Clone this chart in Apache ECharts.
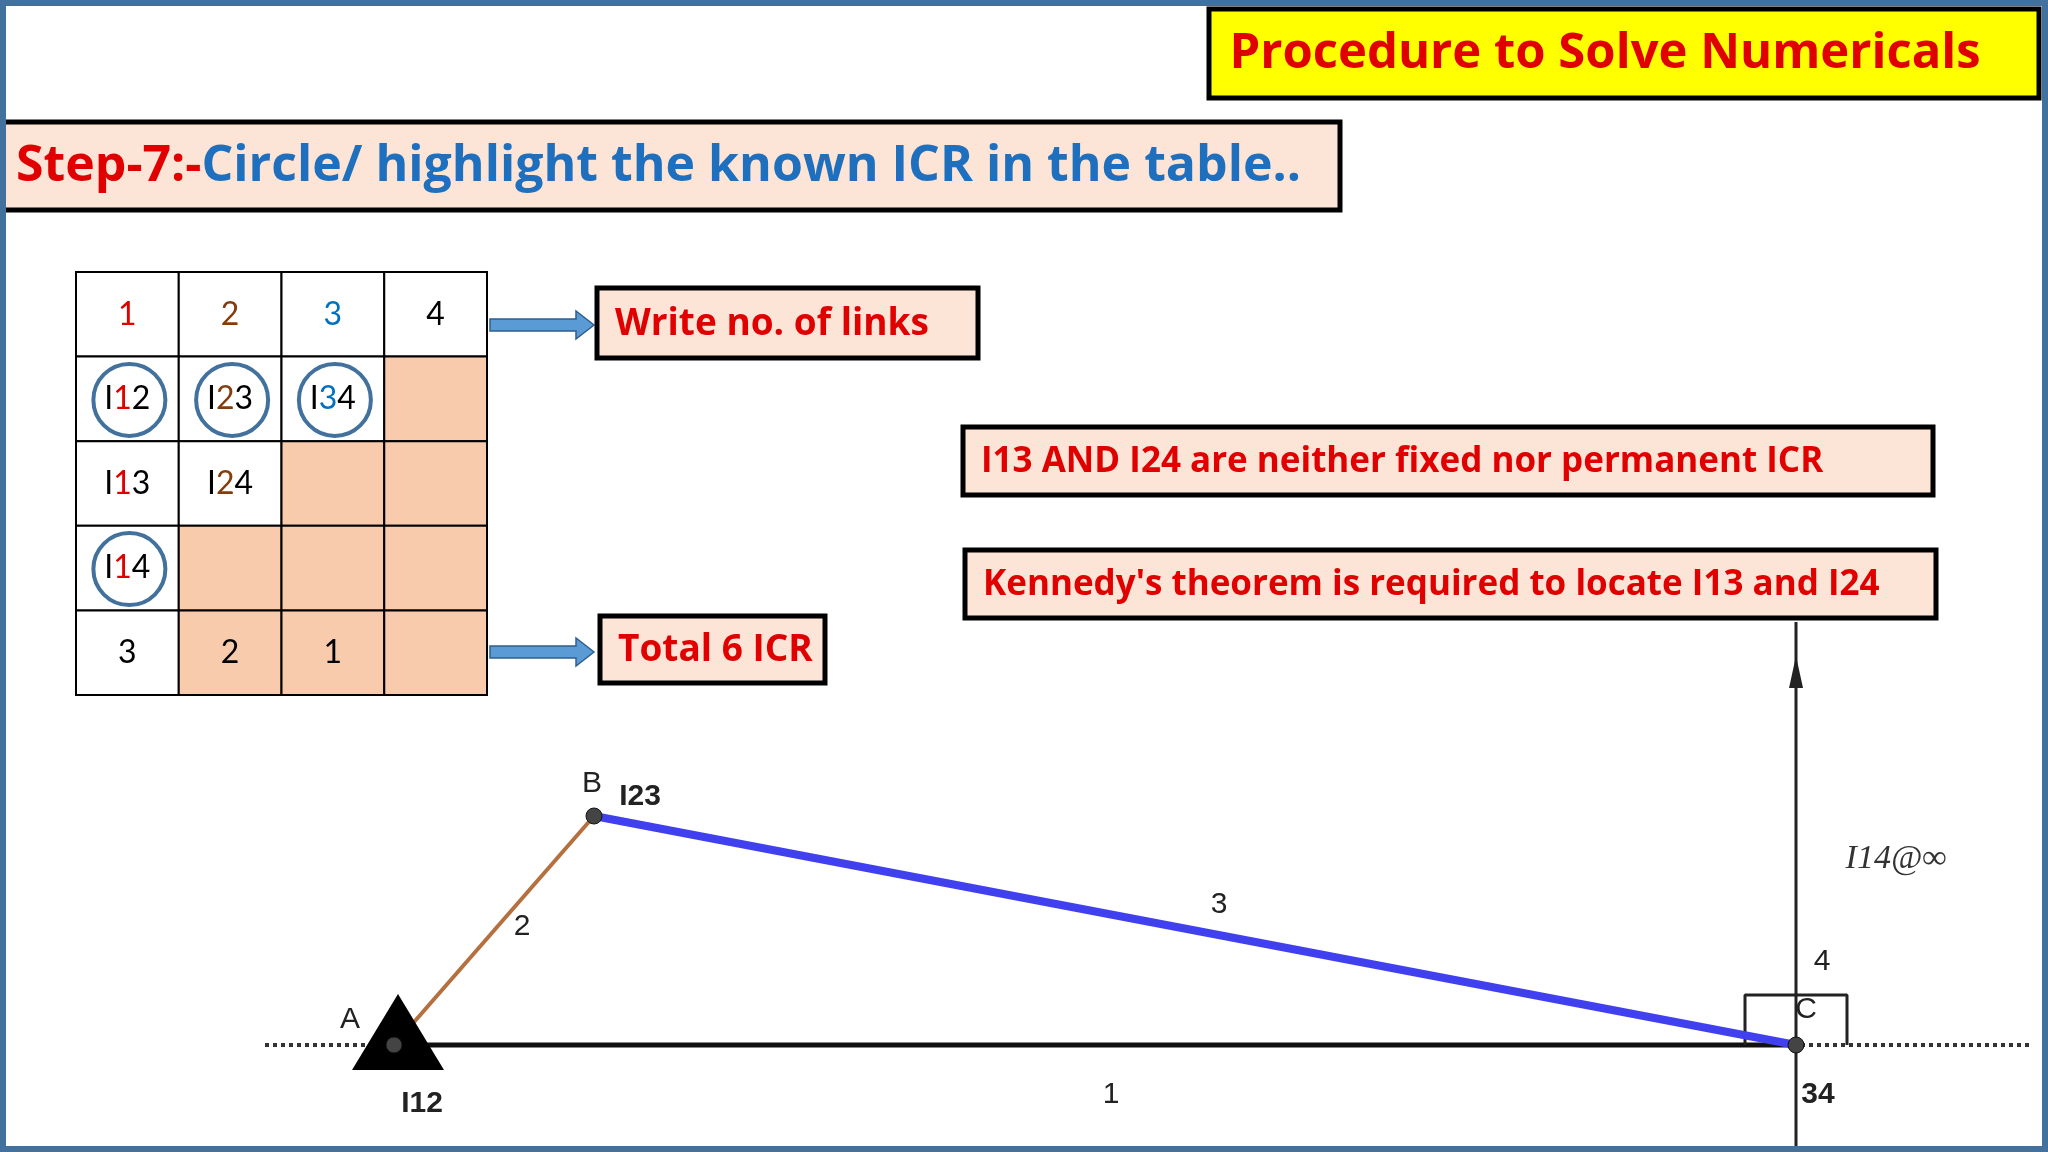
<!DOCTYPE html>
<html><head><meta charset="utf-8">
<script src="https://cdn.jsdelivr.net/npm/echarts@6/dist/echarts.min.js"></script>
<style>html,body{margin:0;padding:0;background:#fff}#c{width:2048px;height:1152px}</style>
</head><body><div id="c"></div>
<script>
// ---- data ----
const tableLabels = [
  ['{r|1}','{o|2}','{u|3}','{k|4}'],
  ['{k|I}{r|1}{k|2}','{k|I}{o|2}{k|3}','{k|I}{u|3}{k|4}',''],
  ['{k|I}{r|1}{k|3}','{k|I}{o|2}{k|4}','',''],
  ['{k|I}{r|1}{k|4}','','',''],
  ['{k|3}','{k|2}','{k|1}','']
];
const shaded = [[0,0,0,0],[0,0,0,1],[0,0,1,1],[0,1,1,1],[0,1,1,1]];
const circled = [[1,0],[1,1],[1,2],[3,0]];
const pointA = [394,1045], pointB = [594,816], pointC = [1796,1045];
const groundDotted = [[265,1045],[2031,1045]];
const sliderBox = [[1745,1045],[1745,995],[1847,995],[1847,1045]];
const verticalLine = [[1796,1152],[1796,622]];
const mechLabels = [
  {t:'B',p:[592,784],b:false},{t:'I23',p:[640,797],b:true},{t:'2',p:[522,927],b:false},
  {t:'3',p:[1219,905],b:false},{t:'A',p:[350,1020],b:false},{t:'I12',p:[422,1104],b:true},
  {t:'1',p:[1111,1095],b:false},{t:'C',p:[1806,1010],b:false},{t:'4',p:[1822,962],b:false},
  {t:'34',p:[1818,1095],b:true}
];
// ---- build ----
const F = 'Lato, "Noto Sans", sans-serif';
const O = '"Open Sans", sans-serif';
const rich = {r:{fill:'#e00000',fontSize:32,fontFamily:F},o:{fill:'#843c0c',fontSize:32,fontFamily:F},
  u:{fill:'#0070c0',fontSize:32,fontFamily:F},k:{fill:'#000',fontSize:32,fontFamily:F}};
const g = [];
g.push({type:'rect',shape:{x:3,y:3,width:2042,height:1146},style:{fill:'none',stroke:'#41719c',lineWidth:6},z:50});
g.push({type:'rect',shape:{x:1209,y:9,width:830,height:89},style:{fill:'#ffff00',stroke:'#000',lineWidth:5}});
g.push({type:'text',x:1605,y:54,style:{text:'Procedure to Solve Numericals',fill:'#e00000',font:'bold 49px '+O,align:'center',verticalAlign:'middle'}});
g.push({type:'rect',shape:{x:3,y:122,width:1337,height:88},style:{fill:'#fce4d6',stroke:'#000',lineWidth:5}});
g.push({type:'text',x:16,y:167,style:{text:'{a|Step-7:-}{b|Circle/ highlight the known ICR in the table..}',verticalAlign:'middle',
  rich:{a:{fill:'#e00000',font:'bold 50px '+O},b:{fill:'#1f6fbf',font:'bold 50px '+O}}}});
const x0=76,y0=272,cw=102.75,rh=84.6;
tableLabels.forEach((row,i)=>row.forEach((lab,j)=>{
  g.push({type:'rect',shape:{x:x0+j*cw,y:y0+i*rh,width:cw,height:rh},style:{fill:shaded[i][j]?'#f8cbad':'#fff',stroke:'#000',lineWidth:2}});
  if(lab) g.push({type:'text',x:x0+j*cw+cw/2,y:y0+i*rh+rh/2,z:5,style:{text:lab,rich,align:'center',verticalAlign:'middle'}});
}));
circled.forEach(([i,j])=>g.push({type:'circle',z:6,shape:{cx:x0+j*cw+cw/2+2,cy:y0+i*rh+rh/2+1,r:36},style:{fill:'none',stroke:'#41719c',lineWidth:4}}));
function arrow(y){g.push({type:'polygon',shape:{points:[[490,y-6],[576,y-6],[576,y-14],[594,y],[576,y+14],[576,y+6],[490,y+6]]},style:{fill:'#5b9bd5',stroke:'#2f5f8f',lineWidth:1.5}});}
arrow(325);arrow(652);
function box(x,y,w,h,t,fs){g.push({type:'rect',shape:{x,y,width:w,height:h},style:{fill:'#fce4d6',stroke:'#000',lineWidth:5}});
  g.push({type:'text',x:x+18,y:y+h/2+1,style:{text:t,fill:'#e00000',font:'bold '+fs+'px '+O,verticalAlign:'middle'}});}
box(597,288,381,70,'Write no. of links',37);
box(600,616,225,67,'Total 6 ICR',37);
box(963,427,970,68,'I13 AND I24 are neither fixed nor permanent ICR',35);
box(965,550,971,68,"Kennedy's theorem is required to locate I13 and I24",35);
mechLabels.forEach(l=>g.push({type:'text',x:l.p[0],y:l.p[1],style:{text:l.t,fill:'#222',font:(l.b?'bold ':'')+'30px "Liberation Sans", Arial, sans-serif',align:'center',verticalAlign:'middle'}}));
g.push({type:'text',x:1896,y:859,style:{text:'I14@∞',fill:'#333',font:'italic 34px "Liberation Serif", serif',align:'center',verticalAlign:'middle'}});

const L=(data,color,w,type,z)=>({type:'line',data,symbol:'none',lineStyle:{color,width:w,type:type||'solid'},z:z||2,silent:true});
const option = {
  animation:false,
  grid:{left:0,right:0,top:0,bottom:0},
  xAxis:{type:'value',min:0,max:2048,show:false},
  yAxis:{type:'value',min:0,max:1152,inverse:true,show:false},
  graphic:g,
  series:[
    L(groundDotted,'#333',4,'dotted',1),
    L([pointA,pointC],'#111',5,'solid',2),
    L(verticalLine,'#222',3,'solid',2),
    L(sliderBox,'#222',3,'solid',2),
    L([pointA,pointB],'#b5703f',4,'solid',3),
    L([pointB,pointC],'#4040ee',8,'solid',3),
    {type:'scatter',data:[[398,1032]],symbol:'triangle',symbolSize:[92,76],itemStyle:{color:'#000',opacity:1},z:4,silent:true},
    {type:'scatter',data:[[1796,672]],symbol:'triangle',symbolSize:[14,32],itemStyle:{color:'#222',opacity:1},z:4,silent:true},
    {type:'scatter',data:[pointA,pointB,pointC],symbolSize:16,itemStyle:{color:'#444',borderColor:'#111',borderWidth:1,opacity:1},z:5,silent:true}
  ]
};
echarts.init(document.getElementById('c')).setOption(option);
</script></body></html>
